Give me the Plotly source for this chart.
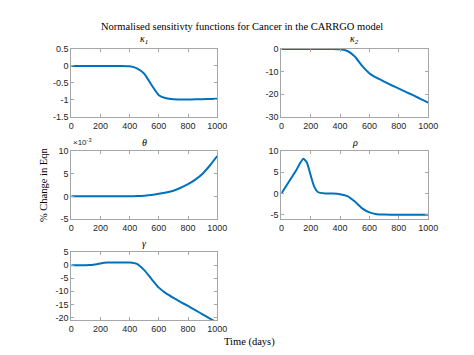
import plotly.graph_objects as go

time_days = [0, 50, 100, 125, 150, 175, 200, 225, 250, 300, 350, 400, 450, 500,
             550, 600, 650, 700, 750, 800, 850, 900, 950, 1000]

kappa1 = [0, 0, 0, 0, 0, 0, 0, 0, 0, 0, 0, -0.01, -0.07, -0.23, -0.56, -0.86,
          -0.95, -0.98, -0.985, -0.985, -0.98, -0.975, -0.97, -0.965]
kappa2 = [0, 0, 0, 0, 0, 0, 0, 0, 0, 0, 0, -0.15, -0.9, -3.3, -7.5, -10.8,
          -12.8, -14.4, -16.0, -17.5, -19.0, -20.5, -22.1, -23.7]
theta_e3 = [0, 0, 0, 0, 0, 0, 0, 0, 0, 0, 0, 0.02, 0.07, 0.15, 0.3, 0.55,
            0.85, 1.25, 1.9, 2.7, 3.7, 5.0, 6.8, 8.9]
rho = [0, 2.7, 5.4, 7.0, 8.2, 7.2, 4.2, 1.5, 0.3, 0.03, 0.0, -0.15, -0.6, -1.9,
       -3.5, -4.45, -4.85, -4.95, -4.97, -4.97, -4.97, -4.97, -4.97, -4.97]
gamma = [0, 0, 0, 0.05, 0.15, 0.35, 0.65, 0.9, 1.0, 1.05, 1.05, 1.0, 0.5, -1.9,
         -5.3, -8.6, -10.8, -12.5, -14.1, -15.6, -17.2, -18.8, -20.4, -22.0]

x_ticks = [0, 200, 400, 600, 800, 1000]

panels = [
    (kappa1, "κ<sub>1</sub>", [-1.5, 0.5], [-1.5, -1, -0.5, 0, 0.5],
     ["-1.5", "-1", "-0.5", "0", "0.5"]),
    (kappa2, "κ<sub>2</sub>", [-30, 0], [-30, -20, -10, 0],
     ["-30", "-20", "-10", "0"]),
    (theta_e3, "θ", [-5, 10], [-5, 0, 5, 10], ["-5", "0", "5", "10"]),
    (rho, "ρ", [-6, 10], [-5, 0, 5, 10], ["-5", "0", "5", "10"]),
    (gamma, "γ", [-21, 5], [-20, -15, -10, -5, 0, 5],
     ["-20", "-15", "-10", "-5", "0", "5"]),
]

W, H = 474, 355
col_px = [(62, 212), (278, 429)]
row_px = [(37, 107), (142, 212), (246, 316)]

fig = go.Figure()
line_col = "#0072BD"
axis_col = "#a6a6a6"
tick_font = dict(family="Liberation Sans, Arial, sans-serif", size=9, color="#262626")
serif = "Liberation Serif, Times New Roman, serif"

for i, (vals, title, yr, yt, ytl) in enumerate(panels):
    r, c = divmod(i, 2)
    x0, x1 = col_px[c]
    y0, y1 = row_px[r]
    xd = [x0 / W, x1 / W]
    yd = [1 - y1 / H, 1 - y0 / H]
    n = i + 1
    xa = "x" if n == 1 else f"x{n}"
    ya = "y" if n == 1 else f"y{n}"
    fig.add_trace(go.Scatter(x=time_days, y=vals, mode="lines",
                             line=dict(color=line_col, width=2, shape="spline", smoothing=0.5),
                             xaxis=xa, yaxis=ya, showlegend=False, hoverinfo="skip"))
    common = dict(showline=True, mirror="ticks", linecolor=axis_col, linewidth=1,
                  ticks="inside", ticklen=3, tickcolor=axis_col, showgrid=False,
                  zeroline=False, tickfont=tick_font)
    fig.layout[f"xaxis{'' if n == 1 else n}"] = dict(
        domain=xd, anchor=ya, range=[0, 1000], tickvals=x_ticks,
        ticktext=[str(v) for v in x_ticks], **common)
    fig.layout[f"yaxis{'' if n == 1 else n}"] = dict(
        domain=yd, anchor=xa, range=yr, tickvals=yt, ticktext=ytl, **common)
    fig.add_annotation(x=(x0 + x1) / 2 / W, y=1 - (y0 - 1) / H, xref="paper", yref="paper",
                       text=f"<i>{title}</i>", showarrow=False, xanchor="center",
                       yanchor="bottom",
                       font=dict(family=serif, size=10, color="#000"))

fig.add_annotation(x=62 / W, y=1 - 140 / H, xref="paper", yref="paper",
                   text="×10<sup>-3</sup>", showarrow=False, xanchor="left", yanchor="bottom",
                   font=dict(family="Liberation Sans, Arial, sans-serif", size=8, color="#262626"))

fig.add_annotation(x=238 / W, y=1 - 14 / H, xref="paper", yref="paper",
                   text="Normalised sensitivty functions for Cancer in the CARRGO model",
                   showarrow=False, xanchor="center", yanchor="middle",
                   font=dict(family=serif, size=10.5, color="#000"))
fig.add_annotation(x=245 / W, y=1 - 339 / H, xref="paper", yref="paper",
                   text="Time (days)", showarrow=False, xanchor="center", yanchor="middle",
                   font=dict(family=serif, size=10.5, color="#000"))
fig.add_annotation(x=33 / W, y=1 - 177 / H, xref="paper", yref="paper",
                   text="% Change in Eqn", showarrow=False, textangle=-90,
                   xanchor="center", yanchor="middle",
                   font=dict(family=serif, size=10.5, color="#000"))

fig.update_layout(width=W, height=H, margin=dict(l=0, r=0, t=0, b=0),
                  paper_bgcolor="white", plot_bgcolor="white")
fig.write_html("out.html")
